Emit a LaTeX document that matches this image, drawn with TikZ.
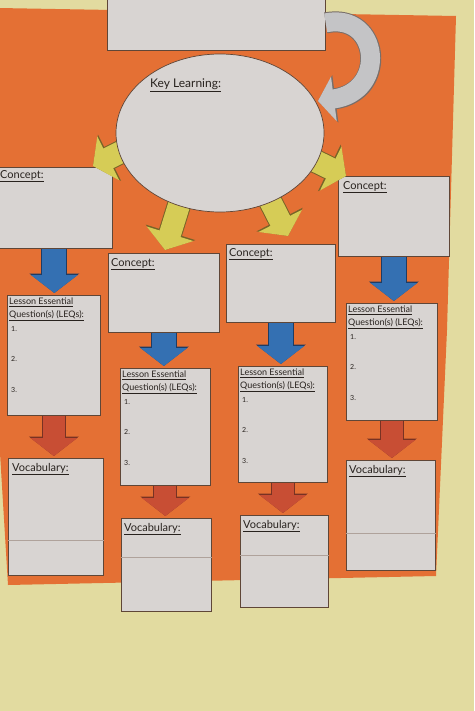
\documentclass[tikz,border=0pt]{standalone}
\usepackage{fontspec}
\setmainfont{Lato}
\usetikzlibrary{positioning,arrows.meta,shapes.geometric}
\definecolor{wall}{RGB}{226,219,160}
\definecolor{boardorange}{RGB}{228,112,52}
\definecolor{boxfill}{RGB}{216,212,210}
\definecolor{boxedge}{RGB}{95,70,55}
\definecolor{ink}{RGB}{40,34,30}
\definecolor{arrblue}{RGB}{52,112,178}
\definecolor{arrblueedge}{RGB}{30,60,100}
\definecolor{arrred}{RGB}{200,78,52}
\definecolor{arrrededge}{RGB}{120,50,35}
\definecolor{arryel}{RGB}{214,204,86}
\definecolor{arryeledge}{RGB}{120,100,40}
\definecolor{arrgray}{RGB}{196,196,198}
\definecolor{arrgrayedge}{RGB}{120,110,105}
\tikzset{
	box/.style={draw=boxedge,fill=boxfill,line width=0.7pt,inner sep=0pt,anchor=north west},
	keyoval/.style={ellipse,draw=boxedge,fill=boxfill,line width=0.7pt,inner sep=0pt,
		minimum width=208pt,minimum height=158pt},
	heading/.style={inner sep=0pt,text=ink,font=\fontsize{11}{13}\selectfont},
	leqtext/.style={inner sep=0pt,text=ink,align=left,font=\fontsize{9}{13}\selectfont},
	numtext/.style={inner sep=0pt,text=ink,font=\fontsize{7}{8}\selectfont},
	pocket/.style={draw=boxedge!50,line width=0.5pt},
	bluearr/.style={draw=arrblue,line width=24pt,-{Triangle[width=46pt,length=18pt]},shorten >=2pt,
		preaction={draw=arrblueedge,line width=26pt,-{Triangle[width=49pt,length=19.5pt]}}},
	redarr/.style={draw=arrred,line width=22pt,-{Triangle[width=46pt,length=18pt]},shorten >=2pt,
		preaction={draw=arrrededge,line width=24pt,-{Triangle[width=49pt,length=19.5pt]}}},
	yelarr/.style={draw=arryel,line width=22pt,-{Triangle[width=48pt,length=17pt]},
		preaction={draw=arryeledge,line width=24pt,-{Triangle[width=51pt,length=18.5pt]}}},
	grayarr/.style={draw=arrgray,line width=19pt,-{Triangle[width=44pt,length=16pt]},
		preaction={draw=arrgrayedge,line width=21pt,-{Triangle[width=47pt,length=17.5pt]}}}
}

\begin{document}
\begin{tikzpicture}[x=1pt,y=-1pt]
	\clip (0,0) rectangle (474,711);
	\fill[wall] (0,0) rectangle (474,711);
	\fill[boardorange] (-2,8) -- (456,16) -- (447,330) -- (436,576) -- (8,585) -- (-2,420) -- cycle;

	% title card
	\node[box,minimum width=218pt,minimum height=55pt] (title) at (107,-5) {};

	% concepts
	\node[box,minimum width=116pt,minimum height=81pt] (c1) at (-4,167) {};
	\node[box,minimum width=111pt,minimum height=79pt] (c2) at (108,253) {};
	\node[box,minimum width=109pt,minimum height=78pt] (c3) at (226,244) {};
	\node[box,minimum width=111pt,minimum height=80pt] (c4) at (338,176) {};
	\node[heading,below right=3pt and 4pt of c1.north west] (c1t) {\underline{Concept:}};
	\node[heading,below right=5pt and 3pt of c2.north west] (c2t) {\underline{Concept:}};
	\node[heading,below right=4pt and 3pt of c3.north west] (c3t) {\underline{Concept:}};
	\node[heading,below right=5pt and 5pt of c4.north west] (c4t) {\underline{Concept:}};

	% key learning with its arrows
	\coordinate (klc) at (220,133);
	\coordinate (grayt) at (318,101);
	\coordinate (y1s) at (133,146);
	\coordinate (y1t) at (93,166);
	\coordinate (y2s) at (180,202);
	\coordinate (y2t) at (165,250);
	\coordinate (y3s) at (265,191);
	\coordinate (y3t) at (288,236);
	\coordinate (y4s) at (305,156);
	\coordinate (y4t) at (346,176);
	\draw[grayarr] (title.east) .. controls (380,12) and (388,92) .. (grayt);
	\draw[yelarr] (y1s) -- (y1t);
	\draw[yelarr] (y2s) -- (y2t);
	\draw[yelarr] (y3s) -- (y3t);
	\draw[yelarr] (y4s) -- (y4t);
	\node[keyoval] (kl) at (klc) {};
	\node[heading,font=\fontsize{12}{14}\selectfont,anchor=west] (klt) at (150,85) {\underline{Key Learning:}};

	% lesson essential questions
	\node[box,minimum width=93pt,minimum height=120pt] (q1) at (7,295) {};
	\node[box,minimum width=90pt,minimum height=117pt] (q2) at (120,368) {};
	\node[box,minimum width=89pt,minimum height=116pt] (q3) at (238,366) {};
	\node[box,minimum width=91pt,minimum height=117pt] (q4) at (346,303) {};
	\node[leqtext,below right=3pt and 2pt of q1.north west] (q1t) {\underline{Lesson Essential}\\\underline{Question(s) (LEQs):}};
	\node[leqtext,below right=3pt and 2pt of q2.north west] (q2t) {\underline{Lesson Essential}\\\underline{Question(s) (LEQs):}};
	\node[leqtext,below right=3pt and 2pt of q3.north west] (q3t) {\underline{Lesson Essential}\\\underline{Question(s) (LEQs):}};
	\node[leqtext,below right=3pt and 2pt of q4.north west] (q4t) {\underline{Lesson Essential}\\\underline{Question(s) (LEQs):}};
	\node[numtext,below right=31pt and 4pt of q1.north west] (q1a) {1.};
	\node[numtext,below=25pt of q1a.south west,anchor=north west] (q1b) {2.};
	\node[numtext,below=25pt of q1b.south west,anchor=north west] (q1c) {3.};
	\node[numtext,below right=31pt and 4pt of q2.north west] (q2a) {1.};
	\node[numtext,below=25pt of q2a.south west,anchor=north west] (q2b) {2.};
	\node[numtext,below=25pt of q2b.south west,anchor=north west] (q2c) {3.};
	\node[numtext,below right=31pt and 4pt of q3.north west] (q3a) {1.};
	\node[numtext,below=25pt of q3a.south west,anchor=north west] (q3b) {2.};
	\node[numtext,below=25pt of q3b.south west,anchor=north west] (q3c) {3.};
	\node[numtext,below right=31pt and 4pt of q4.north west] (q4a) {1.};
	\node[numtext,below=25pt of q4a.south west,anchor=north west] (q4b) {2.};
	\node[numtext,below=25pt of q4b.south west,anchor=north west] (q4c) {3.};

	% vocabulary pockets
	\node[box,minimum width=95pt,minimum height=117pt] (v1) at (8,458) {};
	\node[box,minimum width=90pt,minimum height=93pt] (v2) at (121,518) {};
	\node[box,minimum width=88pt,minimum height=92pt] (v3) at (240,515) {};
	\node[box,minimum width=89pt,minimum height=110pt] (v4) at (346,460) {};
	\draw[pocket] ([yshift=35pt]v1.south west) -- ([yshift=35pt]v1.south east);
	\draw[pocket] ([yshift=54pt]v2.south west) -- ([yshift=54pt]v2.south east);
	\draw[pocket] ([yshift=52pt]v3.south west) -- ([yshift=52pt]v3.south east);
	\draw[pocket] ([yshift=37pt]v4.south west) -- ([yshift=37pt]v4.south east);
	\node[heading,below right=5pt and 4pt of v1.north west] (v1t) {\underline{Vocabulary:}};
	\node[heading,below right=5pt and 3pt of v2.north west] (v2t) {\underline{Vocabulary:}};
	\node[heading,below right=5pt and 3pt of v3.north west] (v3t) {\underline{Vocabulary:}};
	\node[heading,below right=5pt and 3pt of v4.north west] (v4t) {\underline{Vocabulary:}};

	% arrows down the columns
	\draw[bluearr] (c1.south) -- (c1.south |- q1.north);
	\draw[bluearr] (c2.south) -- (c2.south |- q2.north);
	\draw[bluearr] (c3.south) -- (c3.south |- q3.north);
	\draw[bluearr] (c4.south) -- (c4.south |- q4.north);
	\draw[redarr] (q1.south) -- (q1.south |- v1.north);
	\draw[redarr] (q2.south) -- (q2.south |- v2.north);
	\draw[redarr] (q3.south) -- (q3.south |- v3.north);
	\draw[redarr] (q4.south) -- (q4.south |- v4.north);
\end{tikzpicture}
\end{document}
